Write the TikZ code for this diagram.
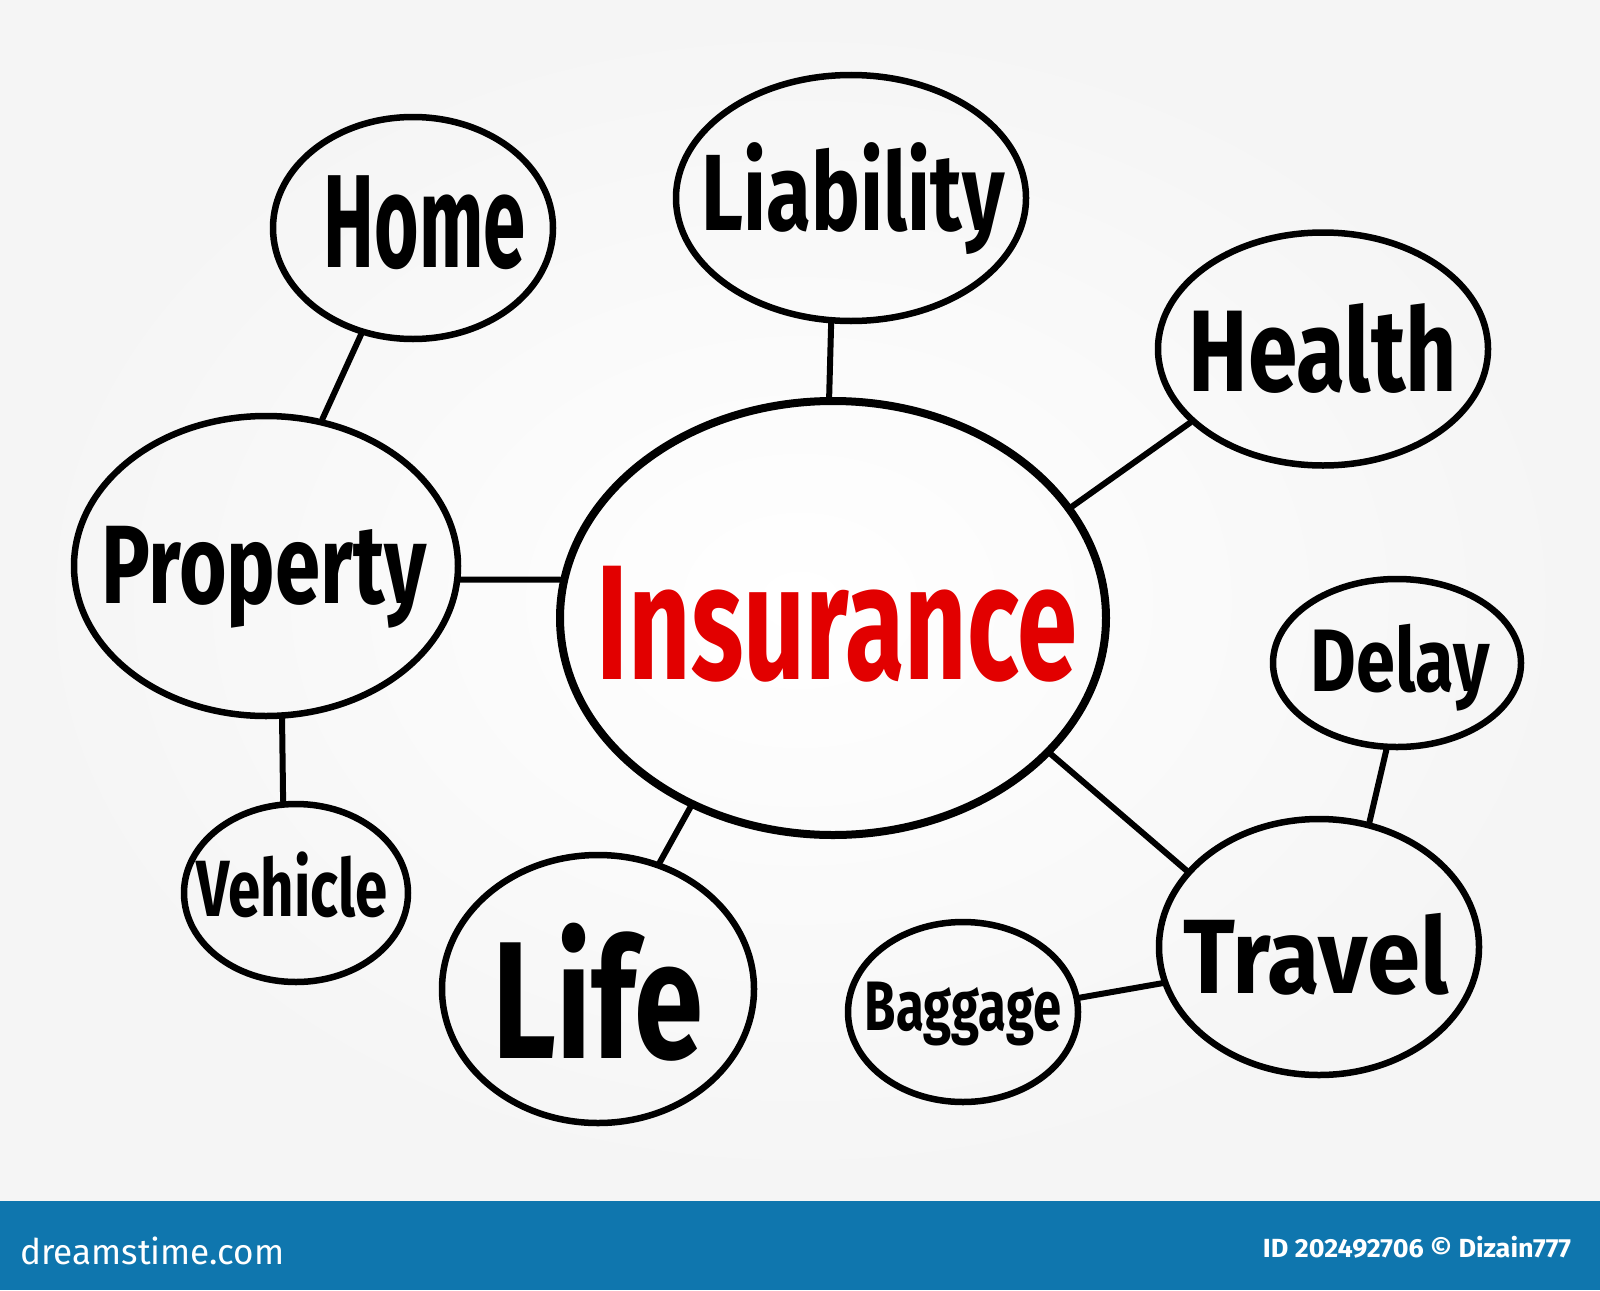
\documentclass[tikz,border=0pt]{standalone}
\usepackage{fontspec}
\setmainfont{Fira Sans}
\usetikzlibrary{shapes.geometric}
\definecolor{barblue}{RGB}{15,118,174}
\definecolor{insred}{RGB}{226,0,0}
\newcommand\fitlbl[3]{\resizebox*{#1pt}{#2pt}{\bfseries #3}}
\begin{document}
\begin{tikzpicture}[x=1pt,y=-1pt,
  bubble/.style={ellipse,draw=black,line width=6.5pt,inner sep=0pt},
  conn/.style={line width=6pt,line cap=round},
  lbl/.style={inner sep=0pt,text=black}]
\useasboundingbox (0,0) rectangle (1600,1290);
\shade[inner color=white,outer color=black!4] (0,0) rectangle (1600,1201);
\fill[barblue] (0,1201) rectangle (1600,1290);

% bubbles
\node[bubble,line width=8pt,minimum width=546,minimum height=434] (central) at (833,618) {};
\node[bubble,minimum width=280,minimum height=222] (home) at (413,228) {};
\node[bubble,minimum width=350,minimum height=246] (liability) at (851,198) {};
\node[bubble,minimum width=330,minimum height=233] (health) at (1323,349) {};
\node[bubble,minimum width=384,minimum height=300] (property) at (266,566) {};
\node[bubble,minimum width=248,minimum height=168] (delay) at (1397,663) {};
\node[bubble,minimum width=224,minimum height=178] (vehicle) at (296,893) {};
\node[bubble,minimum width=312,minimum height=268] (life) at (598,989) {};
\node[bubble,minimum width=230,minimum height=180] (baggage) at (963,1012) {};
\node[bubble,minimum width=320,minimum height=256] (travel) at (1319,947) {};

% labels
\node[lbl,text=insred] (tinsurance) at (837,624) {\fitlbl{480}{116}{Insurance}};
\node[lbl] (thome) at (425,223) {\fitlbl{202}{94}{Home}};
\node[lbl] (tliability) at (853,199) {\fitlbl{303}{112}{Liability}};
\node[lbl] (thealth) at (1323,348) {\fitlbl{268}{90}{Health}};
\node[lbl] (tproperty) at (264,577) {\fitlbl{325}{102}{Property}};
\node[lbl] (tdelay) at (1400,668) {\fitlbl{179}{87}{Delay}};
\node[lbl] (tvehicle) at (292,885) {\fitlbl{191}{66}{Vehicle}};
\node[lbl] (tlife) at (598,992) {\fitlbl{211}{138}{Life}};
\node[lbl] (tbaggage) at (963,1014) {\fitlbl{196}{64}{Baggage}};
\node[lbl] (ttravel) at (1316,954) {\fitlbl{265}{82}{Travel}};

% connectors
\draw[conn] (home.244) -- (property.69);
\draw[conn] (liability.261) -- (central.91);
\draw[conn] (health.209) -- (central.25);
\draw[conn] (property.-4) -- (central.172);
\draw[conn] (property.276) -- (vehicle.98);
\draw[conn] (central.233) -- (life.64);
\draw[conn] (central.-32) -- (travel.150);
\draw[conn] (delay.263) -- (travel.68);
\draw[conn] (baggage.7) -- (travel.193);

% footer
\node[inner sep=0pt,anchor=west,text=white] (brand) at (20,1251) {\resizebox*{264pt}{28pt}{dreamstime.com}};
\node[inner sep=0pt,text=white] (imgid) at (1417,1247) {\resizebox*{308pt}{22pt}{\bfseries ID 202492706 © Dizain777}};
\end{tikzpicture}
\end{document}
